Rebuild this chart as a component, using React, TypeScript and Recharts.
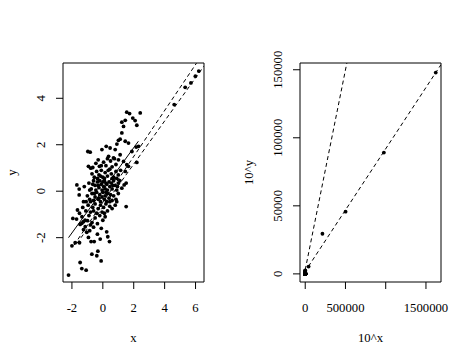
import React from "react";
import { ScatterChart, Scatter, XAxis, YAxis, ReferenceArea, Label } from "recharts";

// simulated x / y (log10 scale)
const xVals = [
  -2.22, -1.47, -1.36, -1.08, -2.0, -1.79, -1.51, -0.71, -0.39, -0.32, -0.11, -0.17, -0.76, -0.56, -0.93, -1.04,
  0.32, 0.43, 1.51, -1.94, -1.64, -1.68, -1.53, -1.53, -1.51, -1.36, -1.25, -1.47, -1.14, -0.99, -1.25, -1.08,
  -0.97, -0.82, -0.93, -0.78, -0.65,
  1.55, 1.73, 1.94, 2.09, 2.2, 2.42, 1.23, 1.45, 1.34, 1.01, 1.12, 1.23, 1.45, 1.66, 2.16, 2.31, 2.2, 1.88, 0.91,
  0.22, 0.47, 0.8, -0.06, -0.22, 0.37, 0.69, 1.01, 1.34, 1.55, 1.12, 1.45, 1.66, 1.51, 1.38, 1.23,
  4.62, 5.33, 5.7, 5.99, 6.21,
  -0.45, -0.3, 0.05, 0.2, 0.5, 0.6, 0.85, 0.3, -0.1, 0.75,
  -0.7, -0.55, -0.4, -0.25, -0.1, 0.0, 0.15, 0.3, 0.45, 0.55, 0.7, 0.85, 1.0, 1.15, -0.35, 0.1, 0.6, 0.9, -0.15, 0.35,
  -1.2, -0.9, -0.75, -0.6, -0.5, -0.45, -0.35, -0.25, -0.2, -0.1, -0.05, 0.0, 0.05, 0.1, 0.15, 0.25, 0.3, 0.4, 0.45,
  0.55, 0.6, 0.7, 0.8, 0.9, 1.0, 1.1, -0.65, -0.3, 0.2, 0.65, 0.95, -0.85,
  -1.0, -0.85, -0.7, -0.6, -0.5, -0.4, -0.3, -0.2, -0.15, -0.05, 0.0, 0.1, 0.15, 0.25, 0.3, 0.4, 0.5, 0.6, 0.7, 0.85,
  1.0, -0.55, -0.25, 0.2, 0.45, -0.8, 0.9,
  -1.3, -1.1, -0.95, -0.8, -0.65, -0.5, -0.4, -0.3, -0.15, -0.05, 0.05, 0.2, 0.3, 0.45, 0.6, 0.8, -0.6, 0.1,
  -1.7, -1.35, -1.15, -0.9, -0.7, -0.5, -0.35, -0.2, 0.0, 0.15, -0.8,
  -1.25, -0.85, -0.6, -0.35, -0.1, 0.25,
];
const yVals = [
  -3.61, -3.07, -3.33, -3.4, -2.35, -2.22, -2.22, -2.71, -2.78, -2.58, -3.0, -2.06, -2.17, -2.17, -1.99, -1.77,
  -1.96, -2.17, -0.66, -1.17, -0.81, 0.27, 0.09, -0.16, -0.95, -1.38, -1.31, -1.43, -1.53, -1.27, -0.45, -0.45,
  1.71, 1.68, 1.07, 0.99, 1.02,
  3.4, 3.34, 3.15, 3.04, 2.84, 3.37, 2.97, 3.05, 2.79, 2.19, 2.24, 2.51, 2.15, 2.07, 1.9, 1.93, 1.24, 1.71, 2.03,
  1.93, 1.86, 1.79, 1.79, 1.07, 1.5, 1.43, 1.35, 1.28, 1.14, 1.57, 0.85, 1.07, 0.35, 0.27, 0.13,
  3.73, 4.47, 4.66, 4.95, 5.17,
  1.2, 1.35, 1.25, 1.1, 1.3, 1.05, 1.15, 1.4, 1.1, 1.4,
  0.75, 0.6, 0.85, 0.7, 0.9, 0.6, 0.8, 0.65, 0.95, 0.75, 0.6, 0.85, 0.7, 0.9, 0.55, 0.55, 0.55, 0.55, 0.65, 0.9,
  0.2, 0.35, 0.1, 0.45, 0.25, 0.05, 0.4, 0.15, 0.45, 0.3, 0.05, 0.4, 0.2, 0.45, 0.1, 0.3, 0.05, 0.4, 0.2,
  0.35, 0.1, 0.45, 0.25, 0.05, 0.35, 0.45, 0.3, 0.25, 0.35, 0.25, 0.2, 0.05,
  -0.2, -0.35, -0.1, -0.4, -0.25, -0.05, -0.35, -0.15, -0.45, -0.25, -0.05, -0.35, -0.2, -0.45, -0.1, -0.3, -0.15,
  -0.4, -0.2, -0.35, -0.1, -0.1, -0.3, -0.05, -0.45, -0.45, -0.45,
  -0.7, -0.85, -0.6, -0.9, -0.7, -0.55, -0.95, -0.75, -0.6, -0.9, -0.7, -0.55, -0.85, -0.65, -0.75, -0.6, -0.85, -0.95,
  -1.2, -1.1, -1.25, -1.05, -1.35, -1.15, -1.4, -1.05, -1.25, -1.1, -1.45,
  -1.65, -1.7, -1.55, -1.85, -1.6, -1.75,
];

// fitted lines, log scale (left) — end points
const solidX = [-2.22, 2.3];
const solidY = [-2.0, 2.15];
const dashAX = [-1.86, 6.06];
const dashAY = [-2.32, 5.51];
const dashBX = [-1.68, 6.54];
const dashBY = [-2.25, 5.38];

// back-transformed lines (right panel)
const rDashAX = [0, 517000];
const rDashAY = [3000, 154900];
const rDashBX = [40000, 1686000];
const rDashBY = [5500, 153700];

const leftXTicks = [-2, 0, 2, 4, 6];
const leftYTicks = [-2, 0, 2, 4];
const rightXTicks = [0, 500000, 1000000, 1500000];
const rightXLabels = ["0", "500000", "", "1500000"];
const rightYTicks = [0, 50000, 100000, 150000];

const FONT = "'Liberation Serif', 'DejaVu Serif', serif";
const FS = 12.7;
const W = 237;
const H = 362;
const MARGIN = { top: 63, right: 33, bottom: 0, left: 0 };

const pts = xVals.map((x, i) => ({ x, y: yVals[i] }));
const ptsExp = xVals.map((x, i) => ({ x: Math.pow(10, x), y: Math.pow(10, yVals[i]) }));
const seg = (xs: number[], ys: number[]) => xs.map((x, i) => ({ x, y: ys[i] }));

const Dot = (p: any) => <circle cx={p.cx} cy={p.cy} r={1.9} fill="#000" />;
const NoDot = () => <g />;

const XTick = (labels?: Record<number, string>) => (p: any) => {
  const v = p.payload.value;
  const txt = labels ? labels[v] : String(v);
  return (
    <text x={p.x} y={p.y} textAnchor="middle" dominantBaseline="central" fontFamily={FONT} fontSize={FS} fill="#000">
      {txt}
    </text>
  );
};

const YTick = (p: any) => (
  <text x={p.x} y={p.y} transform={`rotate(-90 ${p.x} ${p.y})`} textAnchor="middle" dominantBaseline="central"
    fontFamily={FONT} fontSize={FS} fill="#000">
    {String(p.payload.value)}
  </text>
);

const xTitle = (t: string) => (p: any) => {
  const vb = p.viewBox;
  return (
    <text x={vb.x + vb.width / 2} y={vb.y + 56} textAnchor="middle" dominantBaseline="central"
      fontFamily={FONT} fontSize={FS} fill="#000">{t}</text>
  );
};
const yTitle = (t: string) => (p: any) => {
  const vb = p.viewBox;
  const cx = vb.x + 12;
  const cy = vb.y + vb.height / 2;
  return (
    <text x={cx} y={cy} transform={`rotate(-90 ${cx} ${cy})`} textAnchor="middle" dominantBaseline="central"
      fontFamily={FONT} fontSize={FS} fill="#000">{t}</text>
  );
};

const lineStyle = { stroke: "#000", strokeWidth: 1 };
const dashStyle = { stroke: "#000", strokeWidth: 1, strokeDasharray: "4 3" };

function Panel(props: {
  data: { x: number; y: number }[];
  xDomain: [number, number];
  yDomain: [number, number];
  xTicks: number[];
  yTicks: number[];
  xLabels?: Record<number, string>;
  xName: string;
  yName: string;
  lines: { d: { x: number; y: number }[]; dashed: boolean }[];
}) {
  const { data, xDomain, yDomain, xTicks, yTicks, xLabels, xName, yName, lines } = props;
  return (
    <ScatterChart width={W} height={H} margin={MARGIN}>
      <XAxis type="number" dataKey="x" domain={xDomain} allowDataOverflow ticks={xTicks} interval={0}
        axisLine={false} tickLine={{ stroke: "#000" }} tickSize={7} tickMargin={19} height={80}
        tick={XTick(xLabels)}>
        <Label content={xTitle(xName)} />
      </XAxis>
      <YAxis type="number" dataKey="y" domain={yDomain} allowDataOverflow ticks={yTicks} interval={0}
        axisLine={false} tickLine={{ stroke: "#000" }} tickSize={7} tickMargin={15} width={63}
        tick={YTick}>
        <Label content={yTitle(yName)} />
      </YAxis>
      <ReferenceArea x1={xDomain[0]} x2={xDomain[1]} y1={yDomain[0]} y2={yDomain[1]}
        fill="none" stroke="#000" strokeWidth={1} fillOpacity={0} ifOverflow="visible" />
      {lines.map((l, i) => (
        <Scatter key={i} data={l.d} line={l.dashed ? dashStyle : lineStyle} shape={NoDot} isAnimationActive={false} />
      ))}
      <Scatter data={data} shape={Dot} isAnimationActive={false} />
    </ScatterChart>
  );
}

export default function App() {
  const rightLabels: Record<number, string> = {};
  rightXTicks.forEach((t, i) => (rightLabels[t] = rightXLabels[i]));
  return (
    <div style={{ position: "absolute", left: 0, top: 0, width: 474, height: 362, background: "#fff", display: "flex" }}>
      <Panel
        data={pts}
        xDomain={[-2.578, 6.548]}
        yDomain={[-3.909, 5.519]}
        xTicks={leftXTicks}
        yTicks={leftYTicks}
        xName="x"
        yName="y"
        lines={[
          { d: seg(solidX, solidY), dashed: false },
          { d: seg(dashAX, dashAY), dashed: true },
          { d: seg(dashBX, dashBY), dashed: true },
        ]}
      />
      <Panel
        data={ptsExp}
        xDomain={[-64900, 1686900]}
        yDomain={[-5960, 154960]}
        xTicks={rightXTicks}
        yTicks={rightYTicks}
        xLabels={rightLabels}
        xName="10^x"
        yName="10^y"
        lines={[
          { d: seg(rDashAX, rDashAY), dashed: true },
          { d: seg(rDashBX, rDashBY), dashed: true },
        ]}
      />
    </div>
  );
}
